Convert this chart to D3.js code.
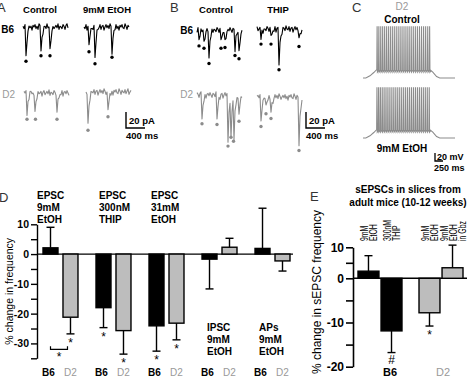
<!DOCTYPE html>
<html>
<head>
<meta charset="utf-8">
<script src="https://cdn.jsdelivr.net/npm/d3@7"></script>
<style>
body { margin: 0; background: #fff; }
text { font-family: "Liberation Sans", Arial, Helvetica, sans-serif; }
</style>
</head>
<body>
<svg id="mainsvg" width="474" height="376"></svg>
<script>
// ---- data ----
// sEPSC traces (A, B): baseline noise in pA, sampled every 21 ms
const noise = [1,-2,3,0,-3,2,4,-1,1,-4, 2,0,3,-2,1,-3,4,2,-1,0, -3,3,1,-2,4,-1,0,2,-4,1,
  3,-2,0,2,-1,4,-3,1,0,-2, 3,1,-3,2,4,-1,0,-2,3,-4, 1,2,-1,3,0,-3,2,1,-2,4,
  0,-1,3,-3,1,2,-4,0,3,-1, 2,-2,4,1,-3,0,2,-1,3,-2, 1,-4,2,0,3,-1,-2,4,1,-3, 2,0,-1,3,-2,1,4,-3,0,2];
// detected events [time ms, amplitude pA]
const aB6Control = [[63, 36], [378, 29], [567, 29]];
const aB6Etoh = [[105, 24], [231, 39], [588, 31]];
const aD2Control = [[63, 26], [241, 26], [693, 26]];
const aD2Etoh = [[42, 41], [462, 24]];
const bB6Control = [[42, 13], [147, 16], [252, 35], [504, 16], [588, 15], [798, 25], [882, 29]];
const bB6Thip = [[84, 12], [294, 12], [462, 44], [882, 15]];
const bD2Control = [[105, 29], [420, 30], [651, 57], [714, 46], [767, 51], [882, 26]];
const bD2Thip = [[84, 30], [189, 14], [294, 20], [882, 60]];

// C: current-clamp spike trains (spike times in ms from step onset)
const cControlSpikes = [25, 80, 140, 200, 262, 325, 388, 452, 516, 580, 645, 710, 775, 840, 905,
  970, 1035, 1100, 1165, 1230, 1295, 1360, 1425, 1490, 1555, 1620, 1680];
const cEtohSpikes = [20, 72, 128, 186, 245, 305, 366, 428, 490, 552, 614, 676, 738, 800, 862,
  924, 986, 1048, 1110, 1172, 1234, 1296, 1358, 1420, 1482, 1544, 1606, 1668];
const cRampIn = [[-420, -70], [-330, -70], [-200, -64], [-80, -55], [0, -48]];
const cRampOut = [[1700, -48], [1780, -54], [1900, -66], [2000, -70], [2480, -70]];
const cPlateau = -48;
const cPeaks = [72, 69];

// D: % change in frequency
const strains = ['B6', 'D2'];
const dGroups = ['EPSC 9mM EtOH', 'EPSC 300nM THIP', 'EPSC 31mM EtOH', 'IPSC 9mM EtOH', 'APs 9mM EtOH'];
const dLabels = [['EPSC', '9mM', 'EtOH'], ['EPSC', '300nM', 'THIP'], ['EPSC', '31mM', 'EtOH'],
  ['IPSC', '9mM', 'EtOH'], ['APs', '9mM', 'EtOH']];
const dB6Mean = [2.1, -18, -24.1, -1.7, 1.9];
const dB6Err = [9.0, -24.7, -32.6, -11.7, 15.4];
const dD2Mean = [-21.2, -25.7, -23.2, 2.3, -2.3];
const dD2Err = [-26.8, -33.6, -28.8, 5.3, -5.7];
const dB6Sig = ['', '*', '*', '', ''];
const dD2Sig = ['*', '*', '*', '', ''];
const dTicks = [10, 5, 0, -5, -10, -15, -20, -25, -30, -35];

// E: adult mice
const eStrain = ['B6', 'B6', 'D2', 'D2'];
const eLabels = [['9mM', 'EtOH'], ['300nM', 'THIP'], ['9mM', 'EtOH'], ['9mM', 'EtOH', 'in Gbz']];
const eMean = [2.3, -11.9, -7.8, 3.4];
const eErr = [7.3, -16.8, -10.8, 10.7];
const eSig = ['', '#', '*', ''];
const eTicks = [10, 5, 0, -5, -10, -15, -20];

// ---- drawing ----
const svg = d3.select('#mainsvg');
const grayTrace = '#8c8c8c';
const grayBar = '#bdbdbd';
const grayText = '#999';

function txt(g, x, y, s, o = {}) {
    return g.append('text').attr('x', x).attr('y', y).text(s)
        .attr('font-size', o.size || 10)
        .attr('font-weight', o.weight || 'normal')
        .attr('fill', o.fill || '#000')
        .attr('text-anchor', o.anchor || 'start');
}

// panel letters
[['A', -3, 12], ['B', 170, 12], ['C', 352, 12], ['D', -1, 202], ['E', 310, 201]].forEach(p =>
    txt(svg, p[1], p[2], p[0], {size: 13, fill: '#333'}));

// ---- A and B: traces ----
const kernel = [1, 0.45, 0.2, 0.08];
const traces = [
    {ev: aB6Control, off: 0, x0: 23, y0: 27, c: '#000'},
    {ev: aB6Etoh, off: 46, x0: 84, y0: 27, c: '#000'},
    {ev: aD2Control, off: 10, x0: 24, y0: 93, c: grayTrace},
    {ev: aD2Etoh, off: 54, x0: 86, y0: 92, c: grayTrace},
    {ev: bB6Control, off: 20, x0: 197, y0: 30, c: '#000'},
    {ev: bB6Thip, off: 30, x0: 257, y0: 29, c: '#000'},
    {ev: bD2Control, off: 40, x0: 197, y0: 95, c: grayTrace},
    {ev: bD2Thip, off: 50, x0: 257, y0: 97, c: grayTrace}
];
const gTr = svg.append('g');
traces.forEach(tr => {
    const tx = d3.scaleLinear().domain([0, 945]).range([tr.x0, tr.x0 + 45]);
    const ty = d3.scaleLinear().domain([0, -20]).range([tr.y0, tr.y0 + 16]);
    const vals = noise.slice(tr.off, tr.off + 46);
    tr.ev.forEach(([t, a]) => {
        const i = Math.round(t / 21);
        kernel.forEach((k, j) => { if (i + j < vals.length) vals[i + j] -= a * k; });
    });
    gTr.append('path').datum(vals)
        .attr('d', d3.line().x((d, i) => tx(i * 21)).y(d => ty(d)))
        .attr('fill', 'none').attr('stroke', tr.c).attr('stroke-width', 1.1)
        .attr('stroke-linejoin', 'round');
    gTr.selectAll(null).data(tr.ev).enter().append('circle')
        .attr('cx', d => tx(d[0]))
        .attr('cy', d => ty(-d[1]) + 5.5)
        .attr('r', 1.7)
        .attr('fill', tr.c);
});

// headers and row labels
txt(svg, 40, 13, 'Control', {size: 9.5, weight: 'bold', anchor: 'middle'});
txt(svg, 107, 13, '9mM EtOH', {size: 9.5, weight: 'bold', anchor: 'middle'});
txt(svg, 216, 13, 'Control', {size: 9.5, weight: 'bold', anchor: 'middle'});
txt(svg, 278, 13, 'THIP', {size: 9.5, weight: 'bold', anchor: 'middle'});
[[14, 33, 'B6', '#000', 'bold'], [15, 98, 'D2', grayText, 'normal'],
 [193, 34, 'B6', '#000', 'bold'], [193, 98, 'D2', grayText, 'normal']].forEach(r =>
    txt(svg, r[0], r[1], r[2], {size: 10, weight: r[4], fill: r[3], anchor: 'end'}));

// scale bars (20 pA / 400 ms)
function scaleBar(x, y, w, h, l1, l2) {
    svg.append('path').attr('d', `M${x},${y - h}V${y}H${x + w}`)
        .attr('fill', 'none').attr('stroke', '#000').attr('stroke-width', 1.4);
    txt(svg, x + 3, y - h / 2 + 4, l1, {size: 9.5, weight: 'bold'});
    txt(svg, x, y + 11, l2, {size: 9.5, weight: 'bold'});
}
scaleBar(126, 128, 19, 16, '20 pA', '400 ms');
scaleBar(306, 128, 19, 16, '20 pA', '400 ms');

// ---- C: spike trains ----
const cx = d3.scaleLinear().domain([-420, 2480]).range([363, 455]);
function spikeTrain(spikes, peak) {
    const pts = cRampIn.slice();
    spikes.forEach(t => {
        pts.push([t - 10, cPlateau], [t, peak], [t + 10, cPlateau - 6], [t + 35, cPlateau - 3]);
    });
    return pts.concat(cRampOut);
}
[[cControlSpikes, cPeaks[0], 78], [cEtohSpikes, cPeaks[1], 138]].forEach(([sp, pk, y0]) => {
    const cy = d3.scaleLinear().domain([-70, 50]).range([y0, y0 - 120 * 0.365]);
    svg.append('path').datum(spikeTrain(sp, pk))
        .attr('d', d3.line().x(d => cx(d[0])).y(d => cy(d[1])))
        .attr('fill', 'none').attr('stroke', grayTrace).attr('stroke-width', 1.1);
});
txt(svg, 402, 10, 'D2', {size: 10, fill: grayText, anchor: 'middle'});
txt(svg, 402, 23, 'Control', {size: 10, weight: 'bold', anchor: 'middle'});
txt(svg, 402, 152, '9mM EtOH', {size: 10, weight: 'bold', anchor: 'middle'});
svg.append('path').attr('d', 'M435,153V161H443')
    .attr('fill', 'none').attr('stroke', '#000').attr('stroke-width', 1.3);
txt(svg, 437, 160, '20 mV', {size: 9, weight: 'bold'});
txt(svg, 434, 171, '250 ms', {size: 9, weight: 'bold'});

// ---- bar helpers ----
function drawBar(g, x, w, y, mean, err, fill, sig, sigSize) {
    const y0 = y(0), y1 = y(mean), ye = y(err), c = x + w / 2;
    g.append('line').attr('x1', c).attr('x2', c).attr('y1', y1).attr('y2', ye)
        .attr('stroke', '#000').attr('stroke-width', 1.4);
    g.append('line').attr('x1', c - 4).attr('x2', c + 4).attr('y1', ye).attr('y2', ye)
        .attr('stroke', '#000').attr('stroke-width', 1.4);
    g.append('rect').attr('x', x).attr('width', w)
        .attr('y', Math.min(y0, y1)).attr('height', Math.abs(y1 - y0))
        .attr('fill', fill).attr('stroke', '#000').attr('stroke-width', 1.4);
    if (sig) txt(g, c, ye + (sig === '#' ? 11 : 13), sig, {size: sigSize, anchor: 'middle'});
}

// ---- D ----
const gD = svg.append('g');
const dX = d3.scaleBand().domain(dGroups).range([43, 290]).paddingInner(0.34);
const dIn = d3.scaleBand().domain(strains).range([0, dX.bandwidth()]).paddingInner(0.25);
const dY = d3.scaleLinear().domain([-35, 10]).range([358.3, 224.3]);

const dAxis = gD.append('g').attr('transform', 'translate(37,0)')
    .call(d3.axisLeft(dY).tickValues(dTicks).tickSize(6).tickSizeOuter(0).tickPadding(2)
        .tickFormat(d => d % 10 === 0 ? String(d) : ''));
dAxis.selectAll('path,line').attr('stroke', '#000').attr('stroke-width', 1.4);
dAxis.selectAll('text').attr('font-size', 10.5).attr('font-weight', 'bold')
    .attr('font-family', '"Liberation Sans", Arial, sans-serif');
gD.append('line').attr('x1', 37).attr('x2', 293).attr('y1', dY(0)).attr('y2', dY(0))
    .attr('stroke', '#000').attr('stroke-width', 1.4);

dGroups.forEach((gname, i) => {
    const gx = dX(gname);
    drawBar(gD, gx + dIn('B6'), dIn.bandwidth(), dY, dB6Mean[i], dB6Err[i], '#000', dB6Sig[i], 12);
    drawBar(gD, gx + dIn('D2'), dIn.bandwidth(), dY, dD2Mean[i], dD2Err[i], grayBar, dD2Sig[i], 12);
    txt(gD, gx + dIn('B6') + dIn.bandwidth() / 2 - 2, 375.5, 'B6', {size: 10, weight: 'bold', anchor: 'middle'});
    txt(gD, gx + dIn('D2') + dIn.bandwidth() / 2, 375.5, 'D2', {size: 10, fill: grayText, anchor: 'middle'});
});

// group labels
const dLabelDx = [-6, 3, 2, 5, 4];
dLabels.forEach((lines, i) => {
    const top = i < 3 ? 199 : 331;
    lines.forEach((s, j) => txt(gD, dX(dGroups[i]) + dLabelDx[i], top + j * 12, s, {size: 10, weight: 'bold'}));
});

// significance bracket B6 vs D2 (EPSC 9mM EtOH)
{
    const b = dX(dGroups[0]) + dIn('B6') + dIn.bandwidth() / 2;
    const d = dX(dGroups[0]) + dIn('D2') + dIn.bandwidth() / 2 - 3;
    const yb = dY(-32);
    gD.append('path').attr('d', `M${b},${yb - 3}V${yb}H${d}V${yb - 3}`)
        .attr('fill', 'none').attr('stroke', '#000').attr('stroke-width', 1.2);
    txt(gD, (b + d) / 2, yb + 12, '*', {size: 12, anchor: 'middle'});
}

svg.append('text').attr('transform', `translate(13,${dY(-12.5)}) rotate(-90)`)
    .attr('text-anchor', 'middle').attr('font-size', 10.5).text('% change in frequency');

// ---- E ----
const gE = svg.append('g');
const eX = d3.scaleBand().domain(strains).range([358, 463]).paddingInner(0.279);
const eIn = d3.scaleBand().domain([0, 1]).range([0, eX.bandwidth()]).paddingInner(0.09);
const eY = d3.scaleLinear().domain([-20, 0, 10]).range([366.7, 278.3, 247.3]);

const eAxis = gE.append('g').attr('transform', 'translate(353,0)')
    .call(d3.axisLeft(eY).tickValues(eTicks).tickSize(7).tickSizeOuter(0).tickPadding(2)
        .tickFormat(d => d % 10 === 0 ? String(d) : ''));
eAxis.selectAll('path,line').attr('stroke', '#000').attr('stroke-width', 1.6);
eAxis.selectAll('text').attr('font-size', 12).attr('font-weight', 'bold')
    .attr('font-family', '"Liberation Sans", Arial, sans-serif');
gE.append('line').attr('x1', 353).attr('x2', 467).attr('y1', eY(0)).attr('y2', eY(0))
    .attr('stroke', '#000').attr('stroke-width', 1.6);

const eSlot = {B6: 0, D2: 0};
eStrain.forEach((s, i) => {
    const k = eSlot[s]++;
    const x = eX(s) + eIn(k);
    const w = eIn.bandwidth();
    drawBar(gE, x, w, eY, eMean[i], eErr[i], s === 'B6' ? '#000' : grayBar, eSig[i], 12);
    const n = eLabels[i].length;
    eLabels[i].forEach((line, j) => {
        const lx = x + w / 2 + (j - (n - 1) / 2) * 9 + 4;
        gE.append('text').attr('transform', `translate(${lx},241) rotate(-90) scale(0.6,1)`)
            .attr('font-size', 11.5).text(line);
    });
});
txt(gE, eX('B6') + eX.bandwidth() / 2 + 10, 376, 'B6', {size: 11, weight: 'bold', anchor: 'middle'});
txt(gE, eX('D2') + eX.bandwidth() / 2 + 2, 376, 'D2', {size: 11, fill: grayText, anchor: 'middle'});

txt(gE, 408, 193, 'sEPSCs in slices from', {size: 10, weight: 'bold', anchor: 'middle'});
txt(gE, 408, 206, 'adult mice (10-12 weeks)', {size: 10, weight: 'bold', anchor: 'middle'});
svg.append('text').attr('transform', 'translate(321,292) rotate(-90)')
    .attr('text-anchor', 'middle').attr('font-size', 12).text('% change in sEPSC frequency');
</script>
</body>
</html>
